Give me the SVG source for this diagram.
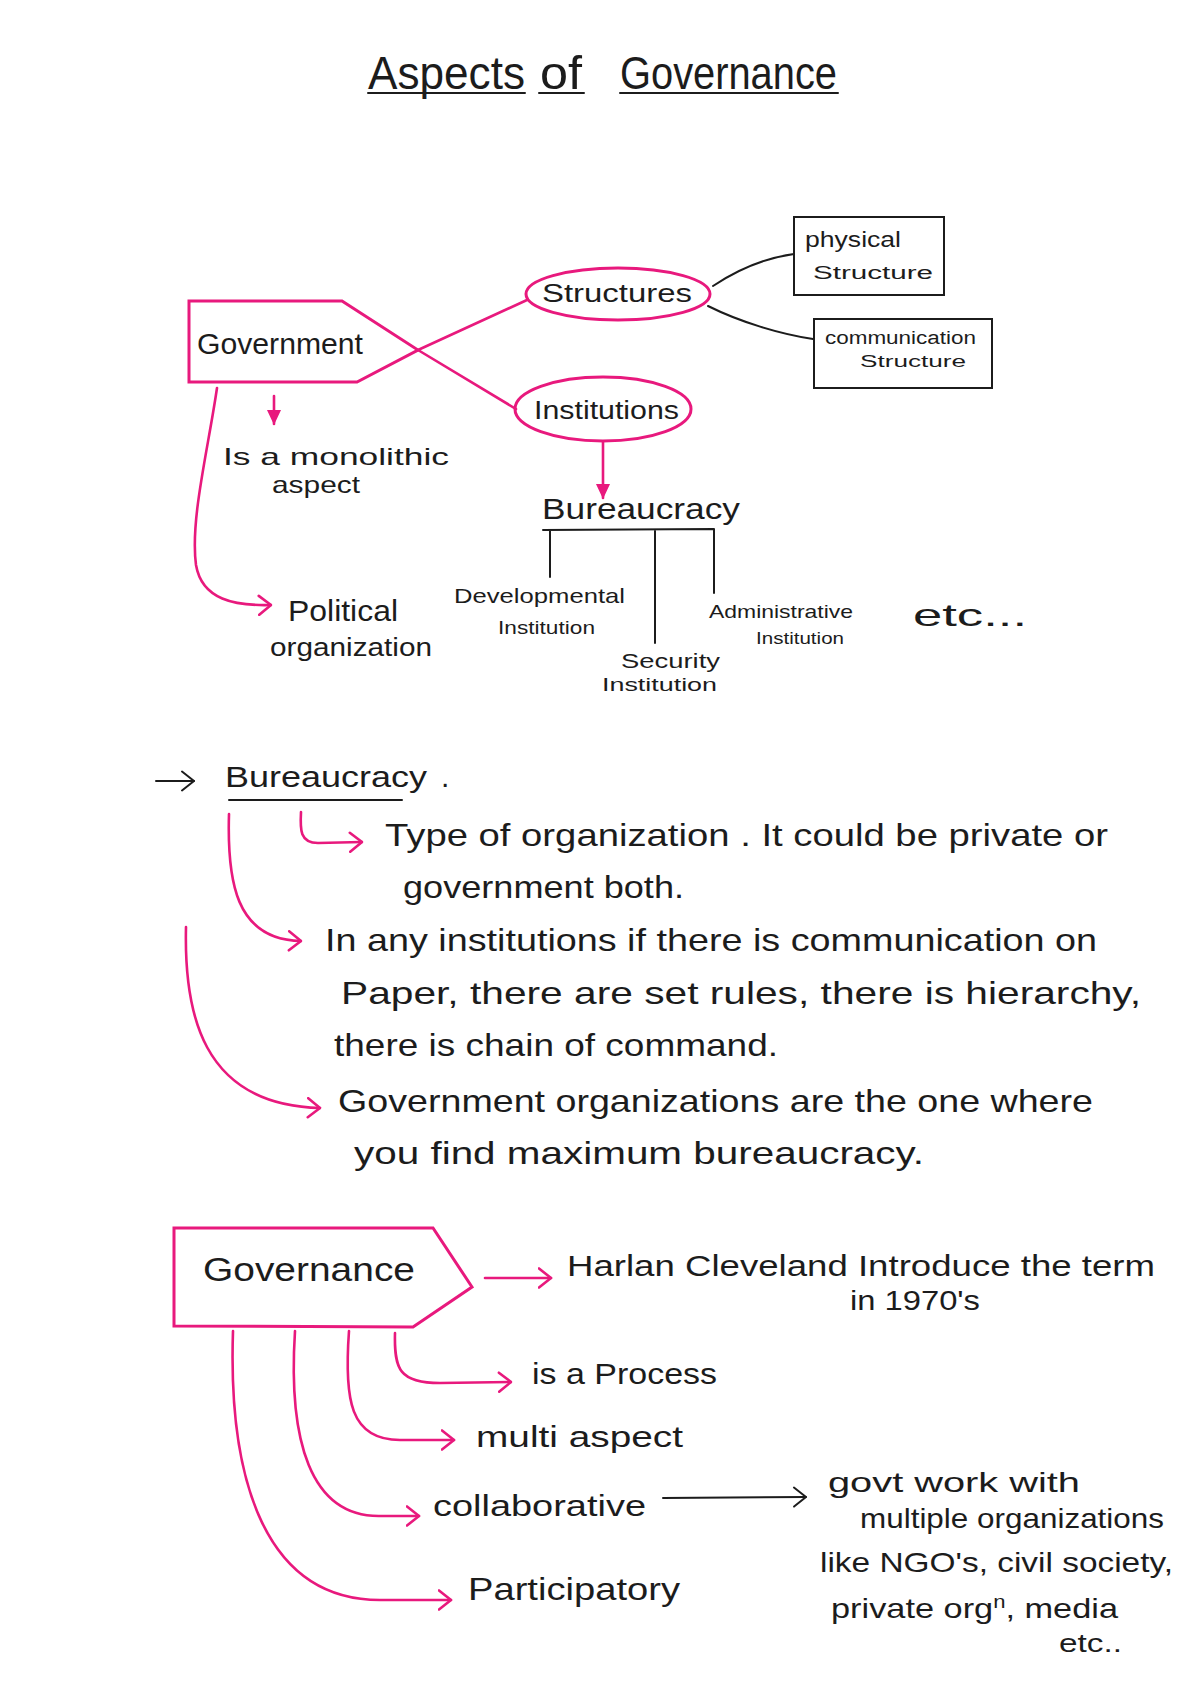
<svg xmlns="http://www.w3.org/2000/svg" width="1200" height="1697" viewBox="0 0 1200 1697">
<defs>
<style>
.t{font-family:"Liberation Sans",Arial,sans-serif;fill:#1c1c1c;}
.pk{fill:none;stroke:#E8197D;stroke-width:2.6;stroke-linecap:round;stroke-linejoin:round;}
.bk{fill:none;stroke:#1c1c1c;stroke-width:2;stroke-linecap:round;stroke-linejoin:round;}
.pkbox{fill:none;stroke:#E8197D;stroke-width:3;}
.bkbox{fill:none;stroke:#1c1c1c;stroke-width:2;}
</style>
<marker id="openPk" viewBox="0 0 15 22" refX="13.5" refY="11" markerWidth="15" markerHeight="22" markerUnits="userSpaceOnUse" orient="auto">
<path d="M1.5,1.5 L13.5,11 L1.5,20.5" fill="none" stroke="#E8197D" stroke-width="2.6" stroke-linecap="round" stroke-linejoin="round"/>
</marker>
<marker id="openBk" viewBox="0 0 15 22" refX="13.5" refY="11" markerWidth="15" markerHeight="22" markerUnits="userSpaceOnUse" orient="auto">
<path d="M1.5,1.5 L13.5,11 L1.5,20.5" fill="none" stroke="#1c1c1c" stroke-width="2" stroke-linecap="round" stroke-linejoin="round"/>
</marker>
<marker id="fillPk" viewBox="0 0 15 14" refX="14" refY="7" markerWidth="15" markerHeight="14" markerUnits="userSpaceOnUse" orient="auto">
<path d="M0,0 L15,7 L0,14 Z" fill="#E8197D"/>
</marker>
</defs>
<rect width="1200" height="1697" fill="#ffffff"/>

<g id="title">
<text class="t" x="368" y="89" font-size="46" textLength="157" lengthAdjust="spacingAndGlyphs">Aspects</text>
<text class="t" x="540" y="89" font-size="46" textLength="42" lengthAdjust="spacingAndGlyphs">of</text>
<text class="t" x="620" y="89" font-size="46" textLength="217" lengthAdjust="spacingAndGlyphs">Governance</text>
<path class="bk" d="M368,93 H525 M539,93 H584 M620,93 H838"/>
</g>

<g id="government">
<polygon class="pkbox" points="189,301 342,301 418,350 357,382 189,382"/>
<text class="t" x="197" y="354" font-size="30" textLength="166" lengthAdjust="spacingAndGlyphs">Government</text>
</g>
<g id="structures">
<ellipse class="pkbox" cx="618" cy="294" rx="92" ry="26"/>
<text class="t" x="542" y="302" font-size="25" textLength="150" lengthAdjust="spacingAndGlyphs">Structures</text>
</g>
<g id="institutions">
<ellipse class="pkbox" cx="603" cy="409" rx="88" ry="32"/>
<text class="t" x="534" y="419" font-size="26" textLength="145" lengthAdjust="spacingAndGlyphs">Institutions</text>
</g>
<g id="physical-structure">
<rect class="bkbox" x="794" y="217" width="150" height="78"/>
<text class="t" x="805" y="247" font-size="22" textLength="96" lengthAdjust="spacingAndGlyphs">physical</text>
<text class="t" x="813" y="279" font-size="18" textLength="120" lengthAdjust="spacingAndGlyphs">Structure</text>
</g>
<g id="communication-structure">
<rect class="bkbox" x="814" y="319" width="178" height="69"/>
<text class="t" x="825" y="344" font-size="18" textLength="151" lengthAdjust="spacingAndGlyphs">communication</text>
<text class="t" x="860" y="367" font-size="16" textLength="106" lengthAdjust="spacingAndGlyphs">Structure</text>
</g>
<g id="monolithic">
<text class="t" x="223" y="465" font-size="24" textLength="226" lengthAdjust="spacingAndGlyphs">Is a monolithic</text>
<text class="t" x="272" y="493" font-size="24" textLength="88" lengthAdjust="spacingAndGlyphs">aspect</text>
</g>
<g id="political-organization">
<text class="t" x="288" y="621" font-size="30" textLength="110" lengthAdjust="spacingAndGlyphs">Political</text>
<text class="t" x="270" y="656" font-size="26" textLength="162" lengthAdjust="spacingAndGlyphs">organization</text>
</g>
<g id="bureaucracy-node">
<text class="t" x="542" y="519" font-size="30" textLength="198" lengthAdjust="spacingAndGlyphs">Bureaucracy</text>
</g>
<g id="developmental">
<text class="t" x="454" y="603" font-size="21" textLength="171" lengthAdjust="spacingAndGlyphs">Developmental</text>
<text class="t" x="498" y="634" font-size="19" textLength="97" lengthAdjust="spacingAndGlyphs">Institution</text>
</g>
<g id="security">
<text class="t" x="621" y="668" font-size="21" textLength="99" lengthAdjust="spacingAndGlyphs">Security</text>
<text class="t" x="602" y="691" font-size="19" textLength="115" lengthAdjust="spacingAndGlyphs">Institution</text>
</g>
<g id="administrative">
<text class="t" x="709" y="618" font-size="19" textLength="144" lengthAdjust="spacingAndGlyphs">Administrative</text>
<text class="t" x="756" y="644" font-size="17" textLength="88" lengthAdjust="spacingAndGlyphs">Institution</text>
</g>
<g id="etc-top">
<text class="t" x="913" y="626" font-size="32" textLength="114" lengthAdjust="spacingAndGlyphs">etc...</text>
</g>

<g id="bureaucracy-notes">
<text class="t" x="225" y="787" font-size="30" textLength="202" lengthAdjust="spacingAndGlyphs">Bureaucracy</text>
<text class="t" x="441" y="787" font-size="30">.</text>
<path class="bk" d="M229,800 H402"/>
<text class="t" x="385" y="846" font-size="32" textLength="723" lengthAdjust="spacingAndGlyphs">Type of organization . It could be private or</text>
<text class="t" x="403" y="898" font-size="32" textLength="281" lengthAdjust="spacingAndGlyphs">government both.</text>
<text class="t" x="325" y="951" font-size="32" textLength="772" lengthAdjust="spacingAndGlyphs">In any institutions if there is communication on</text>
<text class="t" x="341" y="1004" font-size="32" textLength="800" lengthAdjust="spacingAndGlyphs">Paper, there are set rules, there is hierarchy,</text>
<text class="t" x="334" y="1056" font-size="32" textLength="444" lengthAdjust="spacingAndGlyphs">there is chain of command.</text>
<text class="t" x="338" y="1112" font-size="32" textLength="755" lengthAdjust="spacingAndGlyphs">Government organizations are the one where</text>
<text class="t" x="354" y="1164" font-size="32" textLength="570" lengthAdjust="spacingAndGlyphs">you find maximum bureaucracy.</text>
</g>

<g id="governance">
<polygon class="pkbox" points="174,1228 433,1228 472,1287 413,1327 174,1326"/>
<text class="t" x="203" y="1281" font-size="34" textLength="212" lengthAdjust="spacingAndGlyphs">Governance</text>
</g>
<g id="harlan">
<text class="t" x="567" y="1276" font-size="30" textLength="588" lengthAdjust="spacingAndGlyphs">Harlan Cleveland Introduce the term</text>
<text class="t" x="850" y="1310" font-size="28" textLength="130" lengthAdjust="spacingAndGlyphs">in 1970's</text>
</g>
<g id="process"><text class="t" x="532" y="1384" font-size="30" textLength="185" lengthAdjust="spacingAndGlyphs">is a Process</text></g>
<g id="multi-aspect"><text class="t" x="476" y="1447" font-size="30" textLength="207" lengthAdjust="spacingAndGlyphs">multi aspect</text></g>
<g id="collaborative"><text class="t" x="433" y="1516" font-size="30" textLength="213" lengthAdjust="spacingAndGlyphs">collaborative</text></g>
<g id="participatory"><text class="t" x="468" y="1600" font-size="32" textLength="212" lengthAdjust="spacingAndGlyphs">Participatory</text></g>
<g id="govt-work">
<text class="t" x="828" y="1492" font-size="28" textLength="252" lengthAdjust="spacingAndGlyphs">govt work with</text>
<text class="t" x="860" y="1528" font-size="28" textLength="304" lengthAdjust="spacingAndGlyphs">multiple organizations</text>
<text class="t" x="820" y="1572" font-size="28" textLength="353" lengthAdjust="spacingAndGlyphs">like NGO's, civil society,</text>
<text class="t" x="831" y="1618" font-size="28" textLength="287" lengthAdjust="spacingAndGlyphs">private org<tspan baseline-shift="super" font-size="18">n</tspan>, media</text>
<text class="t" x="1059" y="1652" font-size="26" textLength="63" lengthAdjust="spacingAndGlyphs">etc..</text>
</g>

<g id="connectors">
<path class="pk" d="M418,350 L527,300"/>
<path class="pk" d="M418,350 L516,409"/>
<path class="bk" d="M713,286 C740,268 765,258 794,254"/>
<path class="bk" d="M708,306 C740,322 780,334 813,339"/>
<path class="pk" d="M274,396 L274,424" marker-end="url(#fillPk)"/>
<path class="pk" d="M603,442 L603,498" marker-end="url(#fillPk)"/>
<path class="pk" d="M217,388 C208,450 190,520 196,565 C202,600 235,606 271,605" marker-end="url(#openPk)"/>
<path class="bk" d="M543,530 L714,529 M550,530 V577 M655,530 V643 M714,529 V593"/>
<path class="bk" d="M156,781 L194,781" marker-end="url(#openBk)"/>
<path class="pk" d="M301,812 C300,830 300,843 318,843 L362,842" marker-end="url(#openPk)"/>
<path class="pk" d="M229,814 C227,880 235,940 301,941" marker-end="url(#openPk)"/>
<path class="pk" d="M186,927 C184,1010 200,1105 320,1108" marker-end="url(#openPk)"/>
<path class="pk" d="M485,1278 L551,1278" marker-end="url(#openPk)"/>
<path class="pk" d="M395,1333 C394,1370 400,1383 440,1383 L511,1382" marker-end="url(#openPk)"/>
<path class="pk" d="M349,1331 C344,1400 350,1440 400,1440 L454,1440" marker-end="url(#openPk)"/>
<path class="pk" d="M295,1331 C288,1440 310,1517 380,1516 L419,1516" marker-end="url(#openPk)"/>
<path class="pk" d="M233,1331 C228,1480 265,1600 380,1600 L451,1600" marker-end="url(#openPk)"/>
<path class="bk" d="M663,1498 L806,1497" marker-end="url(#openBk)"/>
</g>
</svg>
